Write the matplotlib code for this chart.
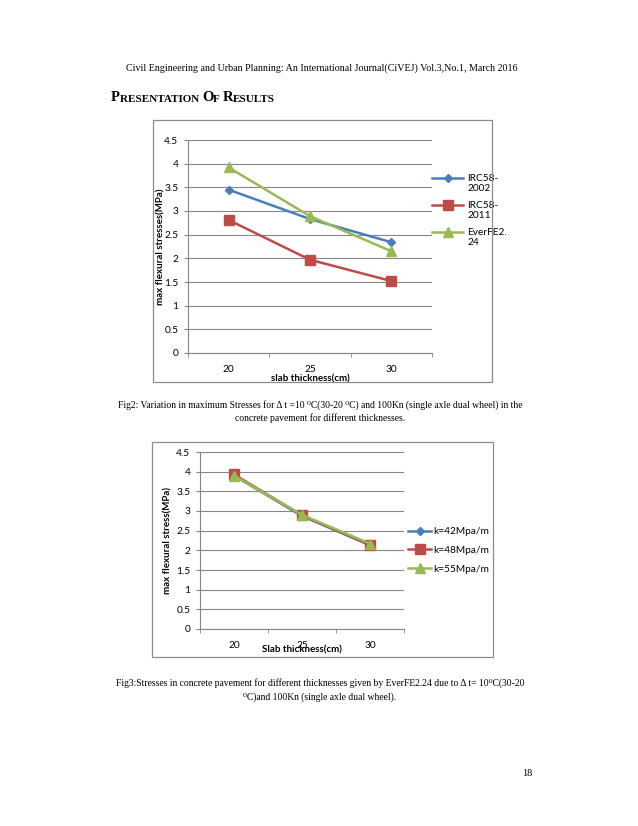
import matplotlib
matplotlib.use("Agg")
import matplotlib.pyplot as plt
from matplotlib.patches import Rectangle
from matplotlib.text import Annotation
from matplotlib.legend_handler import HandlerLine2D

W, H = 638, 826

# data
thickness = ["20", "25", "30"]

fig2_names = ["IRC58-\n2002", "IRC58-\n2011", "EverFE2.\n24"]
irc2002 = [3.45, 2.83, 2.34]
irc2011 = [2.81, 1.97, 1.52]
everfe = [3.92, 2.89, 2.15]

fig3_names = ["k=42Mpa/m", "k=48Mpa/m", "k=55Mpa/m"]
k42 = [3.90, 2.87, 2.13]
k48 = [3.93, 2.89, 2.14]
k55 = [3.90, 2.90, 2.17]

yticks = [0, 0.5, 1, 1.5, 2, 2.5, 3, 3.5, 4, 4.5]
ytick_labels = ["0", "0.5", "1", "1.5", "2", "2.5", "3", "3.5", "4", "4.5"]

colors = ["#4a7ebb", "#be4b48", "#98b954"]
markers = ["D", "s", "^"]
msizes = [4.5, 6.5, 6.5]

sans = ["Lato", "DejaVu Sans"]
serif = ["Liberation Serif", "DejaVu Serif"]

fig = plt.figure(figsize=(W / 100, H / 100), dpi=100)


def fx(x):
    return x / W


def fy(y):
    return 1 - y / H


def px_axes(l, t, r, b):
    return fig.add_axes([fx(l), fy(b), (r - l) / W, (b - t) / H])


def frame(l, t, r, b):
    fig.patches.append(Rectangle((fx(l), fy(b)), (r - l) / W, (b - t) / H,
                                 transform=fig.transFigure, fill=False,
                                 edgecolor="#8c8c8c", linewidth=0.9))


class FirstLineHandler(HandlerLine2D):
    # put the legend line level with the first line of a two-line label
    def adjust_drawing_area(self, legend, orig_handle, xdescent, ydescent, width, height, fontsize):
        xd, yd, w, h = super().adjust_drawing_area(legend, orig_handle, xdescent, ydescent,
                                                   width, height, fontsize)
        return xd, yd - 1.2 * fontsize, w, h


def style_axes(ax):
    n = len(thickness)
    ax.set_xlim(-0.5, n - 0.5)
    ax.set_ylim(0, 4.5)
    ax.set_yticks(yticks)
    ax.set_yticklabels(ytick_labels, family=sans, fontsize=7.3)
    ax.set_xticks(list(range(n)))
    ax.set_xticklabels(thickness, family=sans, fontsize=7.3)
    ax.set_xticks([i - 0.5 for i in range(n + 1)], minor=True)
    ax.tick_params(axis="x", which="major", length=0, pad=9)
    ax.tick_params(axis="x", which="minor", length=3, color="#868686")
    ax.tick_params(axis="y", length=3, color="#868686", pad=4)
    ax.grid(axis="y", color="#868686", linewidth=0.8)
    ax.set_axisbelow(True)
    for s in ["top", "right"]:
        ax.spines[s].set_visible(False)
    for s in ["left", "bottom"]:
        ax.spines[s].set_color("#868686")
        ax.spines[s].set_linewidth(0.8)


# header
fig.text(fx(322), fy(68), "Civil Engineering and Urban Planning: An International Journal(CiVEJ) Vol.3,No.1, March 2016",
         ha="center", va="center", family=serif, fontsize=7.2)

# small caps heading
pieces = [("P", 10.5), ("RESENTATION ", 8), ("O", 10.5), ("F ", 8), ("R", 10.5), ("ESULTS", 8)]
prev = None
for txt, sz in pieces:
    if prev is None:
        prev = fig.text(fx(111), fy(101), txt, family=serif, fontsize=sz,
                        fontweight="bold", ha="left", va="baseline")
    else:
        prev = fig.add_artist(Annotation(txt, xy=(1, 0), xycoords=prev, va="bottom", ha="left",
                                         family=serif, fontsize=sz, fontweight="bold"))

# ---------- Fig 2 ----------
frame(153, 120, 492, 382)
ax1 = px_axes(188, 140, 432, 353)
style_axes(ax1)
lines1 = []
for vals, name, c, m, ms in zip([irc2002, irc2011, everfe], fig2_names, colors, markers, msizes):
    ln, = ax1.plot(range(len(thickness)), vals, color=c, marker=m, markersize=ms,
                   linewidth=1.8, label=name, clip_on=False)
    lines1.append(ln)
ax1.set_xlabel("slab thickness(cm)", family=sans, fontsize=7, fontweight="bold")
ax1.set_ylabel("max flexural stresses(MPa)", family=sans, fontsize=7, fontweight="bold")
ax1.xaxis.set_label_coords(0.5, -0.1)
ax1.yaxis.set_label_coords(-0.094, 0.5)
ax1.legend(loc="upper left", bbox_to_anchor=(fx(432), fy(174)), bbox_transform=fig.transFigure,
           frameon=False, prop={"family": sans, "size": 7.3}, handlelength=3.1,
           handletextpad=0.4, labelspacing=0.75, borderpad=0, borderaxespad=0,
           handler_map={ln: FirstLineHandler() for ln in lines1})

fig.text(fx(320), fy(405), "Fig2: Variation in maximum Stresses for \u0394 t =10 \u2070C(30-20 \u2070C) and 100Kn (single axle dual wheel) in the",
         ha="center", va="center", family=serif, fontsize=6.9)
fig.text(fx(320), fy(418), "concrete pavement for different thicknesses.",
         ha="center", va="center", family=serif, fontsize=6.9)

# ---------- Fig 3 ----------
frame(152, 442, 493, 657)
ax2 = px_axes(200, 452, 404, 629)
style_axes(ax2)
for vals, name, c, m, ms in zip([k42, k48, k55], fig3_names, colors, markers, msizes):
    ax2.plot(range(len(thickness)), vals, color=c, marker=m, markersize=ms,
             linewidth=1.8, label=name, clip_on=False)
ax2.set_xlabel("Slab thickness(cm)", family=sans, fontsize=7, fontweight="bold")
ax2.set_ylabel("max flexural stress(MPa)", family=sans, fontsize=7, fontweight="bold")
ax2.xaxis.set_label_coords(0.5, -0.09)
ax2.yaxis.set_label_coords(-0.137, 0.5)
ax2.legend(loc="upper left", bbox_to_anchor=(fx(408), fy(527)), bbox_transform=fig.transFigure,
           frameon=False, prop={"family": sans, "size": 7.3}, handlelength=2.3,
           handletextpad=0.2, labelspacing=0.95, borderpad=0, borderaxespad=0)

fig.text(fx(320), fy(683), "Fig3:Stresses in concrete pavement for different thicknesses given by EverFE2.24 due to \u0394 t= 10\u2070C(30-20",
         ha="center", va="center", family=serif, fontsize=6.9)
fig.text(fx(320), fy(697), "\u2070C)and 100Kn (single axle dual wheel).",
         ha="center", va="center", family=serif, fontsize=6.9)

# page number
fig.text(fx(527), fy(774), "18", ha="center", va="center", family=serif, fontsize=7.5)

fig.savefig("out.png", dpi=100)
